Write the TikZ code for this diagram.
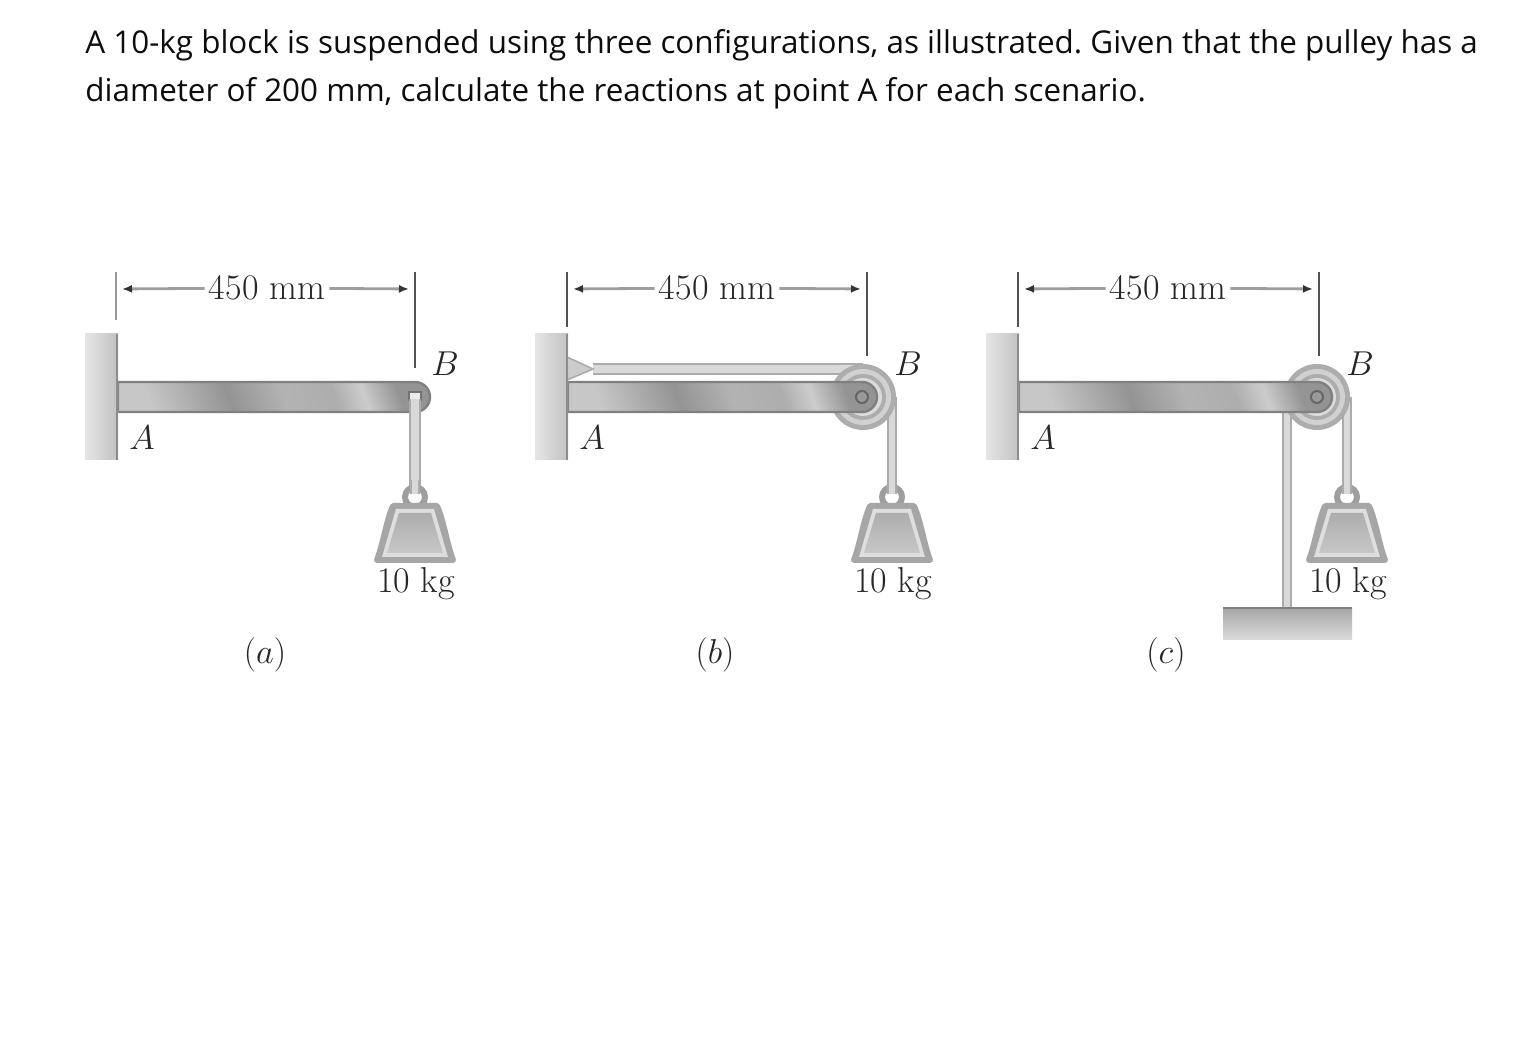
\documentclass[tikz,border=0pt]{standalone}
\usepackage{fontspec}
\usetikzlibrary{arrows.meta}
\newfontfamily\headfont{Open Sans}
\frenchspacing

\pgfdeclarehorizontalshading{barmetal}{100bp}{
    color(0bp)=(black!22);
    color(25bp)=(black!22);
    color(41bp)=(black!42);
    color(52bp)=(black!30);
    color(62bp)=(black!32);
    color(68bp)=(black!20);
    color(75bp)=(black!42);
    color(100bp)=(black!42)}

\tikzset{
    headtext/.style={anchor=base west,inner sep=0pt,font=\headfont\fontsize{15.7}{18}\selectfont,text=black!95},
    figtext/.style={inner sep=0pt,font=\fontsize{16}{19}\selectfont,text=black!85},
    bigtext/.style={figtext,font=\fontsize{18}{21}\selectfont},
    extline/.style={line width=1.4pt},
    dimline/.style={draw=black!38,line width=1.4pt,-{Latex[black!80,length=5pt,width=4pt]},shorten >=3pt},
    wallblock/.style={left color=black!10,right color=black!24},
    beam/.style={shading=barmetal,shading angle=20,draw=black!50,line width=1.2pt},
    rope/.style={draw=black!33,double=black!15,line width=0.9pt,double distance=3.2pt},
    pulleyrim/.style={fill=black!#1}
}

\begin{document}
\begin{tikzpicture}[x=0.5pt,y=0.5pt,>=latex]
        \useasboundingbox (0,0) rectangle (1516,-1058);

        % the question above the figures
        \node[headtext] (lineone) at (85,-54) {A 10-kg block is suspended using three configurations, as illustrated. Given that the pulley has a};
        \node[headtext] (linetwo) at (85,-102) {diameter of 200 mm, calculate the reactions at point A for each scenario.};

        % pulley and ropes of (b) and (c) go behind the beams
        \draw[rope] (1287,-412) -- (1287,-608);
        \draw[rope] (1347,-397) -- (1347,-493);
        \draw[rope] (892,-397) -- (892,-493);
        \draw[rope,double distance=4.4pt] (593,-369) -- (863,-369);
        \filldraw[draw=black!33,fill=black!20,line width=0.8pt] (567,-357) -- (593,-369) -- (567,-380) -- cycle;

        \foreach \cx in {863,1317} {
                \fill[pulleyrim=32] (\cx,-397) circle(33);
                \fill[pulleyrim=18] (\cx,-397) circle(28);
                \fill[pulleyrim=32] (\cx,-397) circle(23);
                \fill[pulleyrim=14] (\cx,-397) circle(19);
        }

        % wall, beam and dimension of each figure
        \foreach \x/\panel/\bx/\lx/\ly/\lg/\rx/\ry in {
            0/a/415/116/320/40/415/368,
            450/b/862/567/327/68/867/356,
            901/c/1317/1018/327/68/1319/356} {
                \shade[beam] (\x+118,-382) -- (\bx,-382) arc (90:-90:15) -- (\x+118,-412) -- cycle;
                \shade[wallblock] (\x+85,-334) rectangle (\x+118,-460);
                \draw[black!45,line width=1pt] (\x+117,-334) -- (\x+117,-460);

                % dimension
                \draw[extline,black!\lg] (\lx,-272) -- (\lx,-\ly);
                \draw[extline,black!68] (\rx,-272) -- (\rx,-\ry);
                \coordinate (left\panel) at (\lx,-289);
                \coordinate (right\panel) at (\rx,-289);
                \node[bigtext,fill=white,inner xsep=2pt] (dim\panel) at (\x+267,-288) {450 mm};
                \draw[dimline] (dim\panel) -- (left\panel);
                \draw[dimline] (dim\panel) -- (right\panel);

                \node[figtext] (A\panel) at (\x+142,-438) {$A$};
                \node[figtext] (tag\panel) at (\x+265,-655) {$(\panel)$};
        }

        % pin at the end of each beam
        \filldraw[draw=black!55,fill=black!8,line width=0.6pt] (409,-392) rectangle (421,-400);
        \draw[rope,double distance=3.8pt] (415,-399) -- (415,-493);
        \foreach \cx in {862,1317} {
                \filldraw[draw=black!60,fill=black!40,line width=1pt] (\cx,-397) circle(6);
        }

        % the hanging blocks
        \foreach \cx/\bx/\name in {415/445/a,892/908/b,1347/1360/c} {
                \filldraw[draw=black!38,fill=white,line width=3pt] (\cx,-497) circle(10);
                \draw[rope] (\cx,-480) -- (\cx,-494);
                \filldraw[draw=black!35,fill=black!35,line width=3pt,line join=round]
                    (\cx-22,-506) -- (\cx+22,-506) .. controls (\cx+29,-522) and (\cx+32,-545) .. (\cx+38,-560)
                    -- (\cx-38,-560) .. controls (\cx-32,-545) and (\cx-29,-522) .. (\cx-22,-506) -- cycle;
                \fill[black!13] (\cx-19,-509) -- (\cx+19,-509) -- (\cx+33,-557) -- (\cx-33,-557) -- cycle;
                \shade[top color=black!32,bottom color=black!22] (\cx-16,-513) -- (\cx+16,-513) -- (\cx+28,-553) -- (\cx-28,-553) -- cycle;
                \node[figtext] (B\name) at (\bx,-364) {$B$};
                \node[bigtext] (mass\name) at (\cx+1,-584) {10 kg};
        }

        % ground of (c)
        \shade[top color=black!35,bottom color=black!14] (1223,-608) rectangle (1352,-640);
        \draw[black!50,line width=1.2pt] (1223,-608) -- (1352,-608);
    \end{tikzpicture}
\end{document}
